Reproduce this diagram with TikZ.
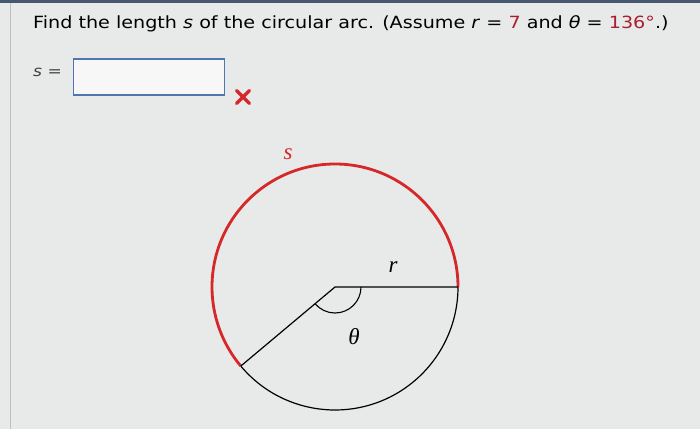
\documentclass[tikz,border=0pt]{standalone}
\usepackage{fontspec}
\setmainfont{DejaVu Sans}
\newfontfamily\labfont{Liberation Serif}
\definecolor{bgpaper}{RGB}{232,234,233}
\definecolor{arcred}{RGB}{214,40,40}
\definecolor{numred}{RGB}{170,30,50}
\definecolor{boxblue}{RGB}{80,118,178}
\definecolor{topbar}{RGB}{70,88,112}
\tikzset{
  radius line/.style={line width=1.2pt, black},
  figlabel/.style={font=\labfont\itshape\fontsize{23}{26}\selectfont, inner sep=0pt},
  screentext/.style={anchor=base west, inner sep=0pt, xscale=1.14, transform shape}
}
\begin{document}
\begin{tikzpicture}[x=1pt, y=1pt]
    % page
    \fill[bgpaper] (0,0) rectangle (700,429);
    \useasboundingbox (0,0) rectangle (700,429);
    \fill[topbar] (0,426) rectangle (700,429);
    \draw[black!25, line width=0.8pt] (10,0) -- (10,426);
    % question text
    \node[screentext, font=\fontsize{16.8}{19}\selectfont] (title) at (33,400)
      {Find the length \textit{s} of the circular arc. (Assume \textit{r} = {\color{numred}7} and \textit{θ} = {\color{numred}136°}.)};
    \node[screentext, font=\fontsize{15}{18}\selectfont, text=black!75] (slabel) at (33,352) {\textit{s} =};
    \node[draw=boxblue, line width=1.6pt, fill=white!60!bgpaper, minimum width=151pt, minimum height=36pt, anchor=north west] (answer) at (72.5,370.5) {};
    % wrong mark
    \coordinate (mark) at (243,332);
    \draw[arcred, line width=3.4pt, line cap=round] ([shift={(-6.5,-6.5)}]mark) -- ([shift={(6.5,6.5)}]mark);
    \draw[arcred, line width=3.4pt, line cap=round] ([shift={(-6.5,6.5)}]mark) -- ([shift={(6.5,-6.5)}]mark);
    % circle and sector
    \coordinate (O) at (335,142);
    \coordinate (A) at ([shift={(0:123)}]O);
    \coordinate (B) at ([shift={(220:123)}]O);
    \draw[black, line width=1.2pt] (B) arc[start angle=220, end angle=360, radius=123];
    \draw[arcred, line width=2.8pt] (A) arc[start angle=0, end angle=220, radius=123];
    \draw[radius line] (B) -- (O) -- (A);
    % angle mark
    \draw[black, line width=1.1pt] ([shift={(0:26)}]O) arc[start angle=360, end angle=220, radius=26];
    % labels
    \node[figlabel, text=arcred] (slab) at (288,275) {s};
    \node[figlabel] (rlab) at (393,162) {r};
    \node[figlabel] (thlab) at (354,92) {θ};
\end{tikzpicture}
\end{document}
